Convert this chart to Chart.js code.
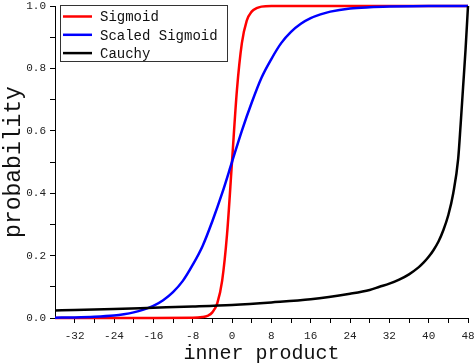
<!DOCTYPE html>
<html lang="en">
<head>
<meta charset="UTF-8">
<title>Sigmoid / Scaled Sigmoid / Cauchy</title>
<script src="https://cdn.jsdelivr.net/npm/chart.js"></script>
<style>
  body { margin: 0; background: #fff; }
  #graph { display: block; }
</style>
</head>
<body>
<canvas id="graph" width="474" height="364"></canvas>
<script>
// values
const sigmoidX = [-36, -16, -8, -6, -5, -4, -3, -2, -1, 0, 1, 2, 3, 4, 5, 6, 8, 16, 48];
const sigmoidY = [0, 0, 0.0005, 0.003, 0.007, 0.018, 0.047, 0.12, 0.27, 0.5, 0.73, 0.88, 0.953, 0.982, 0.993, 0.998, 1, 1, 1];

const scaledX = [-36, -32, -28, -24, -22, -20, -18, -16, -14, -12, -10, -8, -6, -4, -2, 0, 2, 4, 6, 8, 10, 12, 14, 16, 18, 20, 24, 28, 32, 40, 48];
const scaledY = [0.001, 0.002, 0.004, 0.008, 0.012, 0.018, 0.027, 0.039, 0.057, 0.083, 0.119, 0.17, 0.23, 0.31, 0.40, 0.5, 0.6, 0.69, 0.77, 0.83, 0.881, 0.917, 0.943, 0.961, 0.973, 0.982, 0.992, 0.996, 0.998, 1, 1];

const cauchyX = [-36, -32, -24, -16, -8, 0, 8, 16, 24, 28, 30, 32, 34, 36, 38, 39, 40, 41, 42, 43, 44, 45, 46, 46.5, 47, 47.5, 48];
const cauchyY = [0.024, 0.026, 0.029, 0.033, 0.037, 0.042, 0.050, 0.060, 0.078, 0.090, 0.100, 0.110, 0.123, 0.140, 0.163, 0.178, 0.196, 0.218, 0.245, 0.282, 0.330, 0.400, 0.510, 0.620, 0.740, 0.860, 1.0];

const seriesNames = ['Sigmoid', 'Scaled Sigmoid', 'Cauchy'];
const seriesColors = ['#ff0000', '#0000ff', '#000000'];

const xTicks = [-32, -28, -24, -20, -16, -12, -8, -4, 0, 4, 8, 12, 16, 20, 24, 28, 32, 36, 40, 44, 48];
const xTickLabels = ['-32', '', '-24', '', '-16', '', '-8', '', '0', '', '8', '', '16', '', '24', '', '32', '', '40', '', '48'];
const yTicks = [0, 0.1, 0.2, 0.3, 0.4, 0.5, 0.6, 0.7, 0.8, 0.9, 1.0];
const yTickLabels = ['0.0', '', '0.2', '', '0.4', '', '0.6', '', '0.8', '', '1.0'];

const FONT = "'Liberation Mono', 'DejaVu Sans Mono', monospace";

function toPoints(xs, ys) {
    return xs.map((x, i) => ({ x: x, y: ys[i] }));
}

// legend in a box, top left of the plot
const boxLegend = {
    id: 'boxLegend',
    afterDraw(chart) {
        const ctx = chart.ctx;
        const left = 60.5, top = 5.5, w = 167, h = 56;
        ctx.save();
        ctx.fillStyle = '#fff';
        ctx.fillRect(left, top, w, h);
        ctx.strokeStyle = '#333';
        ctx.lineWidth = 1;
        ctx.strokeRect(left, top, w, h);
        ctx.font = '14px ' + FONT;
        ctx.textBaseline = 'middle';
        ctx.fillStyle = '#111';
        seriesNames.forEach((name, i) => {
            const y = 16.5 + i * 18.3;
            ctx.strokeStyle = seriesColors[i];
            ctx.lineWidth = 2.5;
            ctx.beginPath();
            ctx.moveTo(63, y);
            ctx.lineTo(92, y);
            ctx.stroke();
            ctx.fillText(name, 100, y + 1);
        });
        ctx.restore();
    }
};

const ctx = document.getElementById('graph').getContext('2d');
new Chart(ctx, {
    type: 'line',
    data: {
        datasets: [
            { label: seriesNames[0], data: toPoints(sigmoidX, sigmoidY), borderColor: seriesColors[0], order: 3 },
            { label: seriesNames[1], data: toPoints(scaledX, scaledY), borderColor: seriesColors[1], order: 2 },
            { label: seriesNames[2], data: toPoints(cauchyX, cauchyY), borderColor: seriesColors[2], order: 1 }
        ]
    },
    options: {
        responsive: false,
        animation: false,
        layout: { padding: { top: 6, right: 6, left: 0, bottom: 0 } },
        datasets: {
            line: {
                borderWidth: 2.5,
                pointRadius: 0,
                fill: false,
                cubicInterpolationMode: 'monotone',
                clip: 4
            }
        },
        plugins: {
            legend: { display: false },
            tooltip: { enabled: false }
        },
        scales: {
            x: {
                type: 'linear',
                min: -36,
                max: 48,
                afterBuildTicks: s => { s.ticks = xTicks.map(v => ({ value: v })); },
                afterFit: s => { s.height = 46; s.paddingLeft = 0; s.paddingRight = 0; },
                ticks: {
                    autoSkip: false,
                    maxRotation: 0,
                    padding: 6,
                    color: '#222',
                    font: { family: FONT, size: 11 },
                    callback: (v, i) => xTickLabels[i]
                },
                grid: { drawOnChartArea: false, drawTicks: true, tickLength: 5, color: '#000' },
                border: { display: true, color: '#000', width: 1 },
                title: {
                    display: true,
                    text: 'inner product',
                    color: '#111',
                    font: { family: FONT, size: 20 },
                    padding: { top: 0, bottom: -2 }
                }
            },
            y: {
                min: 0,
                max: 1,
                afterBuildTicks: s => { s.ticks = yTicks.map(v => ({ value: v })); },
                afterFit: s => { s.width = 55; s.paddingTop = 0; s.paddingBottom = 0; },
                ticks: {
                    autoSkip: false,
                    padding: 4,
                    color: '#222',
                    font: { family: FONT, size: 11 },
                    callback: (v, i) => yTickLabels[i]
                },
                grid: { drawOnChartArea: false, drawTicks: true, tickLength: 5, color: '#000' },
                border: { display: true, color: '#000', width: 1 },
                title: {
                    display: true,
                    text: 'probability',
                    color: '#111',
                    font: { family: FONT, size: 23 },
                    padding: 0
                }
            }
        }
    },
    plugins: [boxLegend]
});
</script>
</body>
</html>
